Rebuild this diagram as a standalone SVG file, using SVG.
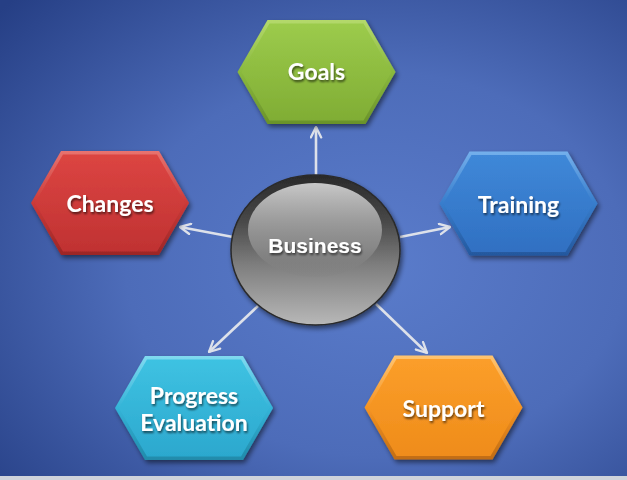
<svg xmlns="http://www.w3.org/2000/svg" xmlns:xlink="http://www.w3.org/1999/xlink" width="627" height="480" viewBox="0 0 627 480">
<defs>
<radialGradient id="bg" cx="0.6" cy="0.55" r="0.8">
<stop offset="0" stop-color="#5a7ccb"/>
<stop offset="0.5" stop-color="#4d6cb9"/>
<stop offset="1" stop-color="#263f85"/>
</radialGradient>
<polygon id="hex" points="-79,0 -49,-52 49,-52 79,0 49,52 -49,52"/>
<polygon id="hexIn" points="-75,0 -47,-48.5 47,-48.5 75,0 47,48.5 -47,48.5"/>
<linearGradient id="gGreen" x1="0" y1="0" x2="0" y2="1"><stop offset="0" stop-color="#9ccb4c"/><stop offset="1" stop-color="#80ad34"/></linearGradient>
<linearGradient id="eGreen" x1="0" y1="0" x2="0" y2="1"><stop offset="0" stop-color="#b4d96c"/><stop offset="0.5" stop-color="#8ab93e"/><stop offset="1" stop-color="#6a922a"/></linearGradient>
<linearGradient id="gRed" x1="0" y1="0" x2="0" y2="1"><stop offset="0" stop-color="#dc4542"/><stop offset="1" stop-color="#c03232"/></linearGradient>
<linearGradient id="eRed" x1="0" y1="0" x2="0" y2="1"><stop offset="0" stop-color="#e8736f"/><stop offset="0.5" stop-color="#cc3a38"/><stop offset="1" stop-color="#9c2626"/></linearGradient>
<linearGradient id="gBlue" x1="0" y1="0" x2="0" y2="1"><stop offset="0" stop-color="#3f88d8"/><stop offset="1" stop-color="#3070c2"/></linearGradient>
<linearGradient id="eBlue" x1="0" y1="0" x2="0" y2="1"><stop offset="0" stop-color="#74b0ec"/><stop offset="0.5" stop-color="#377dcc"/><stop offset="1" stop-color="#24589e"/></linearGradient>
<linearGradient id="gCyan" x1="0" y1="0" x2="0" y2="1"><stop offset="0" stop-color="#3ec2e2"/><stop offset="1" stop-color="#2ca8ce"/></linearGradient>
<linearGradient id="eCyan" x1="0" y1="0" x2="0" y2="1"><stop offset="0" stop-color="#80daf0"/><stop offset="0.5" stop-color="#34b4d8"/><stop offset="1" stop-color="#208aaa"/></linearGradient>
<linearGradient id="gOrange" x1="0" y1="0" x2="0" y2="1"><stop offset="0" stop-color="#fb9e2a"/><stop offset="1" stop-color="#ef8c1a"/></linearGradient>
<linearGradient id="eOrange" x1="0" y1="0" x2="0" y2="1"><stop offset="0" stop-color="#ffc470"/><stop offset="0.5" stop-color="#f69422"/><stop offset="1" stop-color="#c06c14"/></linearGradient>
<linearGradient id="ballOuter" x1="0" y1="0" x2="0" y2="1"><stop offset="0" stop-color="#2a2a2a"/><stop offset="0.3" stop-color="#474747"/><stop offset="0.6" stop-color="#7e7e7e"/><stop offset="1" stop-color="#b8b8b8"/></linearGradient>
<linearGradient id="ballInner" x1="0" y1="0" x2="0" y2="1"><stop offset="0" stop-color="#c8c8c8"/><stop offset="0.7" stop-color="#8e8e8e" stop-opacity="0.8"/><stop offset="1" stop-color="#7e7e7e" stop-opacity="0.15"/></linearGradient>
<filter id="shadow" x="-20%" y="-20%" width="140%" height="150%"><feGaussianBlur in="SourceAlpha" stdDeviation="2.5"/><feOffset dx="2" dy="3" result="b"/><feComponentTransfer><feFuncA type="linear" slope="0.5"/></feComponentTransfer><feMerge><feMergeNode/><feMergeNode in="SourceGraphic"/></feMerge></filter>
<filter id="tshadow" x="-10%" y="-30%" width="120%" height="160%"><feGaussianBlur in="SourceAlpha" stdDeviation="1"/><feOffset dx="1" dy="1.5"/><feComponentTransfer><feFuncA type="linear" slope="0.6"/></feComponentTransfer><feMerge><feMergeNode/><feMergeNode in="SourceGraphic"/></feMerge></filter>
<marker id="arr" viewBox="0 0 10 10" refX="9" refY="5" markerWidth="5" markerHeight="5" orient="auto" markerUnits="strokeWidth"><path d="M1,1 L9,5 L1,9" fill="none" stroke="#dde1ea" stroke-width="1.8" stroke-linecap="round" stroke-linejoin="round"/></marker>
</defs>
<style>
.lbl{font-family:Lato,"Open Sans","Liberation Sans",sans-serif;font-weight:bold;font-size:23px;fill:#ffffff;text-anchor:middle;}
.conn line{stroke:#dde1ea;stroke-width:2.6;marker-end:url(#arr);}
</style>
<rect width="627" height="480" fill="url(#bg)"/>
<rect x="0" y="476" width="627" height="4" fill="#cfd3db"/>
<g id="connectors" class="conn">
<line x1="316" y1="175" x2="316" y2="127"/>
<line x1="233" y1="237" x2="180" y2="227"/>
<line x1="400" y1="237" x2="450" y2="227"/>
<line x1="258" y1="306" x2="209" y2="352"/>
<line x1="376" y1="304" x2="427" y2="353"/>
</g>
<g id="goals" transform="translate(316.5,72)">
<g filter="url(#shadow)"><use xlink:href="#hex" fill="url(#eGreen)"/><use xlink:href="#hexIn" fill="url(#gGreen)"/></g>
<text class="lbl" x="0" y="8" filter="url(#tshadow)">Goals</text>
</g>
<g id="changes" transform="translate(110,203)">
<g filter="url(#shadow)"><use xlink:href="#hex" fill="url(#eRed)"/><use xlink:href="#hexIn" fill="url(#gRed)"/></g>
<text class="lbl" x="0" y="9" filter="url(#tshadow)">Changes</text>
</g>
<g id="training" transform="translate(518.5,203.5)">
<g filter="url(#shadow)"><use xlink:href="#hex" fill="url(#eBlue)"/><use xlink:href="#hexIn" fill="url(#gBlue)"/></g>
<text class="lbl" x="0" y="9" filter="url(#tshadow)">Training</text>
</g>
<g id="progress" transform="translate(194,408)">
<g filter="url(#shadow)"><use xlink:href="#hex" fill="url(#eCyan)"/><use xlink:href="#hexIn" fill="url(#gCyan)"/></g>
<text class="lbl" x="0" y="-4" filter="url(#tshadow)">Progress</text>
<text class="lbl" x="0" y="23" filter="url(#tshadow)">Evaluation</text>
</g>
<g id="support" transform="translate(443.5,407.5)">
<g filter="url(#shadow)"><use xlink:href="#hex" fill="url(#eOrange)"/><use xlink:href="#hexIn" fill="url(#gOrange)"/></g>
<text class="lbl" x="0" y="9" filter="url(#tshadow)">Support</text>
</g>
<g id="business">
<g filter="url(#shadow)">
<ellipse cx="315.5" cy="250" rx="84.5" ry="75" fill="url(#ballOuter)" stroke="#2a2a2a" stroke-width="1.5"/>
<ellipse cx="315" cy="230" rx="67" ry="47" fill="url(#ballInner)"/>
</g>
<text x="315" y="253" font-family="'Liberation Sans',Arial,sans-serif" font-weight="bold" font-size="21" fill="#ffffff" text-anchor="middle" filter="url(#tshadow)">Business</text>
</g>
</svg>
